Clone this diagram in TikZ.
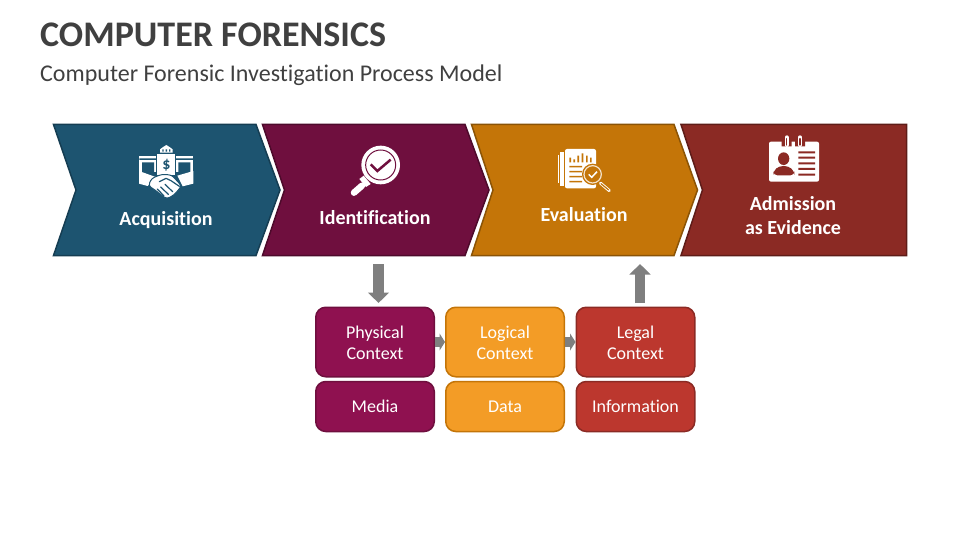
\documentclass[tikz,border=0pt]{standalone}
\usepackage{fontspec}
\setmainfont{Carlito}[Ligatures=NoCommon]
\usetikzlibrary{arrows.meta}
\newcommand\tallstrut{\rule{0pt}{15pt}}
\definecolor{cBlue}{HTML}{1D5470}\definecolor{cBlueD}{HTML}{153D52}
\definecolor{cPur}{HTML}{6F0F3E}\definecolor{cPurD}{HTML}{4D0A2B}
\definecolor{cOra}{HTML}{C47508}\definecolor{cOraD}{HTML}{8A5306}
\definecolor{cMar}{HTML}{8B2A24}\definecolor{cMarD}{HTML}{5E1C18}
\definecolor{bPur}{HTML}{8F1150}\definecolor{bPurD}{HTML}{6F0F3E}
\definecolor{bOra}{HTML}{F39C26}\definecolor{bOraD}{HTML}{C47508}
\definecolor{bRed}{HTML}{BC372E}\definecolor{bRedD}{HTML}{8B2A24}
\definecolor{cGray}{HTML}{7F7F7F}\definecolor{cTitle}{HTML}{404040}
\tikzset{
 x=1pt,y=-1pt,
 chev/.style={line width=1.5pt,line join=miter},
 chevtext/.style={text=white,align=center,inner sep=0pt,font=\fontsize{20}{24}\selectfont\bfseries},
 boxbase/.style={rounded corners=10pt,line width=1.5pt,minimum width=118.5pt,inner sep=0pt,align=center,text=white,font=\fontsize{18}{21}\selectfont},
 tallbox/.style={boxbase,minimum height=69.5pt},
 lowbox/.style={boxbase,minimum height=50pt},
 bigflow/.style={draw=cGray,line width=10.5pt,-{Triangle[length=10.5pt,width=20.5pt,fill=cGray]}},
 smallflow/.style={draw=cGray,line width=10pt,-{Triangle[length=5.5pt,width=17pt,fill=cGray]}},
 icon3/.style={x=0.33333pt,y=-0.33333pt},
}
\begin{document}
\begin{tikzpicture}
\useasboundingbox (0,0) rectangle (960,540);
% title
\node[anchor=west,inner sep=0pt,text=cTitle,font=\fontsize{36}{40}\selectfont\bfseries] (title) at (40,35) {COMPUTER FORENSICS};
\node[anchor=west,inner sep=0pt,text=cTitle,font=\fontsize{24}{28}\selectfont] (subtitle) at (40,75) {Computer Forensic Investigation Process Model};
% chevrons
\draw[chev,fill=cBlue,draw=cBlueD] (53.5,124.5)--(256,124.5)--(280,190)--(256,255.5)--(53.5,255.5)--(76,190)--cycle;
\draw[chev,fill=cPur,draw=cPurD] (262.5,124.5)--(465,124.5)--(489,190)--(465,255.5)--(262.5,255.5)--(284.5,190)--cycle;
\draw[chev,fill=cOra,draw=cOraD] (471.5,124.5)--(674,124.5)--(697.5,190)--(674,255.5)--(471.5,255.5)--(493,190)--cycle;
\draw[chev,fill=cMar,draw=cMarD] (681,124.5)--(906.5,124.5)--(906.5,255.5)--(681,255.5)--(702.5,190)--cycle;
\node[chevtext] (acq) at (166,220) {Acquisition};
\node[chevtext] (idn) at (375,218) {Identification};
\node[chevtext] (eva) at (584,215) {Evaluation};
\node[chevtext] (adm) at (793,216) {Admission\\as Evidence};
% boxes
\node[tallbox,fill=bPur,draw=bPurD] (phys) at (375,342) {\tallstrut Physical\\Context};
\node[tallbox,fill=bOra,draw=bOraD] (logi) at (505,342) {\tallstrut Logical\\Context};
\node[tallbox,fill=bRed,draw=bRedD] (lega) at (635.5,342) {\tallstrut Legal\\Context};
\node[lowbox,fill=bPur,draw=bPurD] (medi) at (375,406.5) {Media};
\node[lowbox,fill=bOra,draw=bOraD] (data) at (505,406.5) {Data};
\node[lowbox,fill=bRed,draw=bRedD] (info) at (635.5,406.5) {Information};
% connectors
\coordinate (dS) at (378.5,264);
\coordinate (dE) at (378.5,303);
\coordinate (uS) at (640,303);
\coordinate (uE) at (640,264);
\draw[bigflow] (dS) -- (dE);
\draw[bigflow] (uS) -- (uE);
\draw[smallflow] (phys.east) -- (logi.west);
\draw[smallflow] (logi.east) -- (lega.west);
% icon 1: bank + handshake
\begin{scope}[shift={(40,115)},icon3]
 \fill[white] (360,113)--(360,103)--(368,97)--(379,90)--(390,97)--(398,103)--(398,113)--cycle;
 \fill[cBlue] (367,103) rectangle (371,110) (377,103) rectangle (381,110) (387,103) rectangle (391,110);
 \fill[white] (352,118) rectangle (405,180);
 \node[text=cBlue,inner sep=0pt,font=\fontsize{16}{16}\selectfont\bfseries] (dollar) at (379,150) {\$};
 \fill[white] (298,124) rectangle (349,172);
 \fill[cBlue] (298,130) rectangle (349,135) (306,142) rectangle (342,172);
 \fill[white] (408,124) rectangle (459,172);
 \fill[cBlue] (408,130) rectangle (459,135) (415,142) rectangle (451,172);
 \fill[white] (297,168)--(347,186)--(323,213)--(297,206)--cycle;
 \fill[white] (460,168)--(412,182)--(428,214)--(460,206)--cycle;
 \fill[white,draw=cBlue,line width=1pt,rounded corners=3pt] (335,190)--(365,178)--(395,180)--(425,213)--(402,240)--(380,252)--(345,225)--(325,212)--cycle;
 \draw[cBlue,line width=1.2pt,line cap=round,line join=round] (358,200)--(378,190)--(393,197)--(418,214) (352,222)--(372,243) (362,216)--(385,238) (375,208)--(398,230);
\end{scope}
% icon 2: magnifier
\begin{scope}[shift={(260,115)},icon3]
 \fill[white] (362,150) circle (58);
 \draw[cPur,line width=1pt] (362,150) circle (45);
 \draw[cPur,line width=2.5pt,line join=miter] (332,148)--(352,168)--(392,134);
 \fill[white] (298,192)--(311,182)--(332,207)--(318,216)--cycle;
 \draw[white,line width=6.5pt,line cap=round] (282,233)--(306,212);
\end{scope}
% icon 3: document + magnifier
\begin{scope}[shift={(470,115)},icon3]
 \fill[white] (264,120) rectangle (268,203);
 \fill[white] (271,110) rectangle (281,212);
 \fill[white,rounded corners=2pt] (285,102) rectangle (378,220);
 \fill[cOra] (298,128) rectangle (303,142) (310,133) rectangle (315,142) (322,122) rectangle (327,142) (335,115) rectangle (340,142) (348,122) rectangle (353,142) (360,128) rectangle (365,142);
 \fill[cOra] (298,153) rectangle (336,157) (298,168) rectangle (336,172) (298,183) rectangle (336,187) (298,198) rectangle (336,202);
 \draw[cOra,line width=5pt,line cap=round] (391,204)--(418,227);
 \draw[white,line width=3pt,line cap=round] (391,204)--(418,227);
 \draw[cOra,line width=1.2pt,line cap=round] (393,206)--(416,225);
 \fill[cOra] (368,178) circle (32);
 \draw[white!80!cOra,line width=1.2pt] (368,178) circle (26);
 \draw[white,line width=1.5pt] (356,178)--(365,187)--(381,170);
\end{scope}
% icon 4: ID card
\begin{scope}[shift={(675,115)},icon3]
 \fill[white,rounded corners=2pt] (282,80) rectangle (432,200);
 \fill[cMar] (320,78) rectangle (350,94) (360,78) rectangle (390,94);
 \draw[white,line width=4pt,line cap=round] (335,67)--(335,90) (375,67)--(375,90);
 \draw[cMar,line width=1.2pt,line cap=round] (335,71)--(335,90) (375,71)--(375,90);
 \fill[cMar] (326,131) ellipse (17 and 19);
 \fill[cMar,rounded corners=4pt] (295,181)--(295,168)--(312,153)--(340,153)--(358,168)--(358,181)--cycle;
 \fill[cMar] (370,109) rectangle (420,115) (370,125) rectangle (420,131) (370,142) rectangle (420,148) (370,159) rectangle (420,165) (370,176) rectangle (420,182);
\end{scope}
\end{tikzpicture}
\end{document}
